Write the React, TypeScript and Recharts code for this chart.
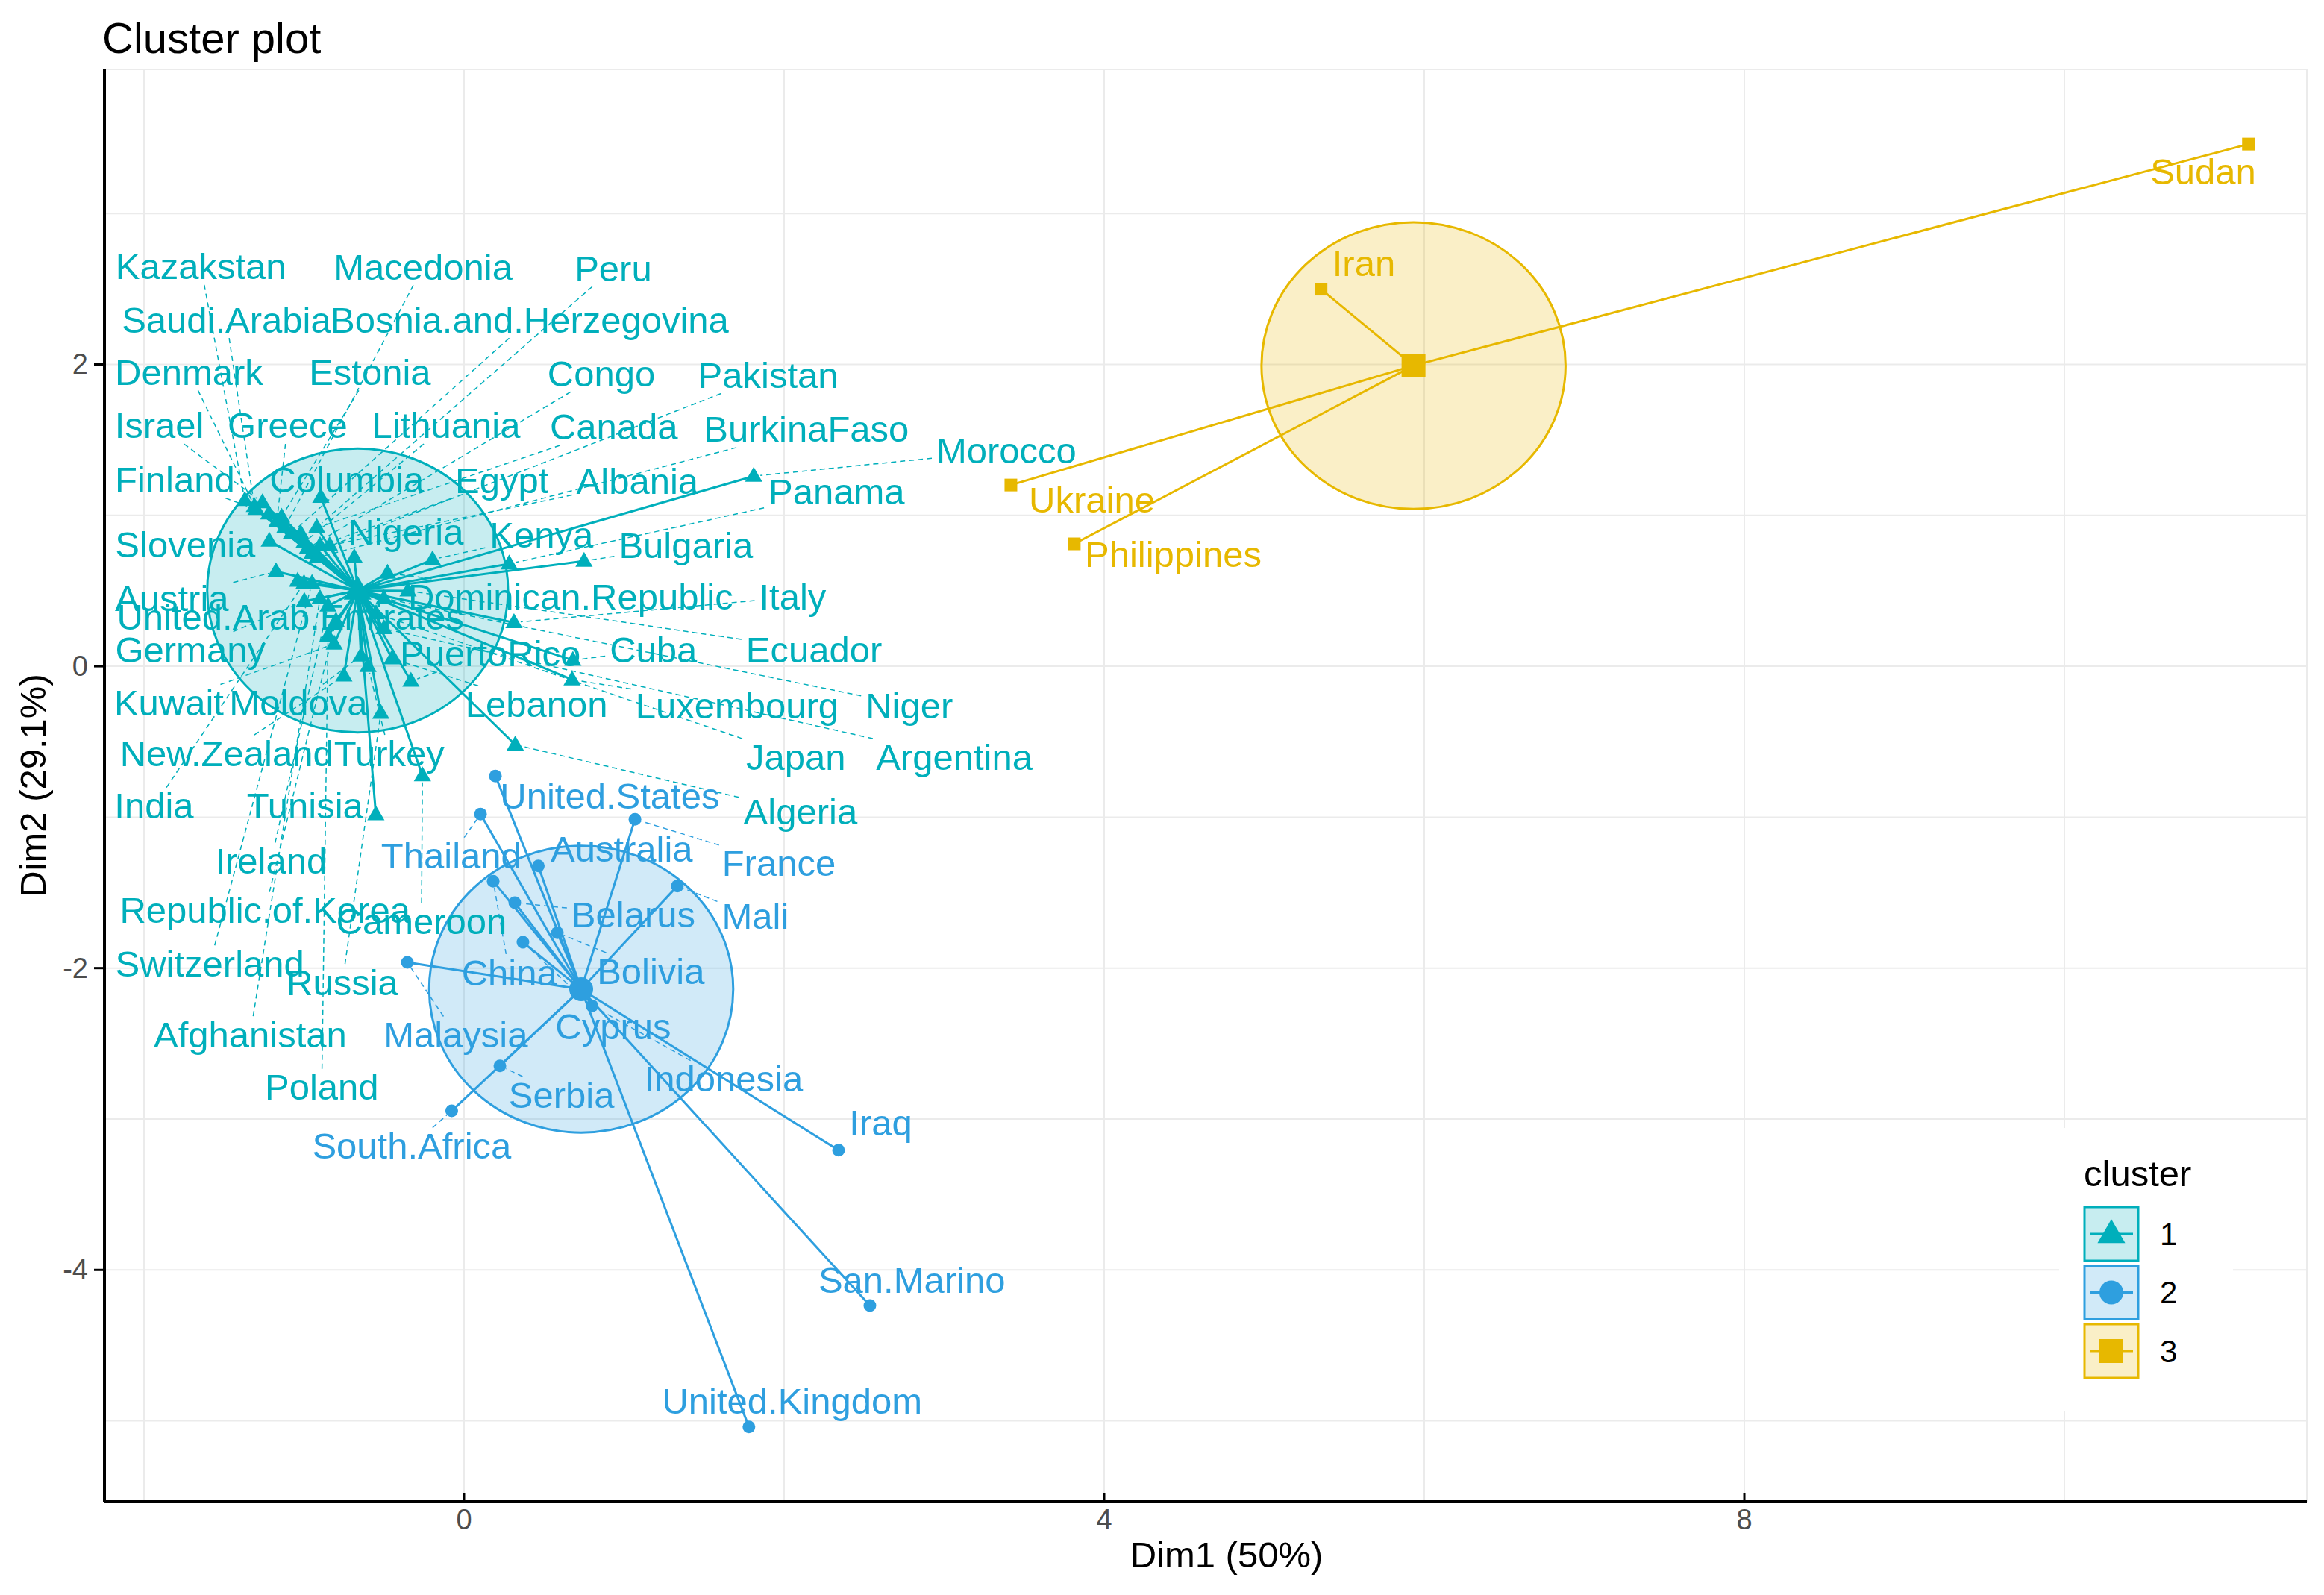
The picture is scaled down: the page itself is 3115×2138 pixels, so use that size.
import React from 'react';
import { ScatterChart, Scatter, XAxis, YAxis, CartesianGrid, ReferenceLine } from 'recharts';

// ---------- data ----------
const clusterColors = ['#00AFBB', '#2E9FDF', '#E7B800'];
const clusterIds = ['1', '2', '3'];

const c1Names = ['Kazakstan', 'Macedonia', 'Peru', 'Saudi.Arabia', 'Bosnia.and.Herzegovina', 'Denmark', 'Estonia', 'Congo', 'Pakistan', 'Israel', 'Greece', 'Lithuania', 'Canada', 'BurkinaFaso', 'Morocco', 'Finland', 'Columbia', 'Egypt', 'Albania', 'Panama', 'Slovenia', 'Nigeria', 'Kenya', 'Bulgaria', 'Austria', 'United.Arab.Emirates', 'Dominican.Republic', 'Italy', 'Germany', 'PuertoRico', 'Cuba', 'Ecuador', 'Kuwait', 'Moldova', 'Lebanon', 'Luxembourg', 'Niger', 'New.Zealand', 'Turkey', 'Japan', 'Argentina', 'India', 'Tunisia', 'Algeria', 'Ireland', 'Republic.of.Korea', 'Cameroon', 'Switzerland', 'Russia', 'Afghanistan', 'Poland'];
const c1PointX = [-1.37, -1.12, -0.92, -1.31, -1.08, -1.30, -1.14, -0.98, -0.95, -1.26, -1.17, -1.0, -1.02, -0.92, 1.81, -1.22, -0.895, -0.9, -0.84, 0.282, -1.217, -0.686, -0.197, 0.75, -1.175, -1.04, -0.478, 0.312, -0.998, -0.332, 0.68, -0.35, -0.811, -0.644, -0.45, 0.675, -0.5, -0.751, -0.6, -0.55, -0.5, -1.0, -0.551, 0.32, -0.85, -0.8, -0.26, -0.95, -0.52, -0.9, -0.85];
const c1PointY = [1.10, 0.92, 0.92, 1.06, 0.88, 1.04, 0.99, 0.78, 0.75, 1.085, 0.96, 0.82, 0.88, 0.72, 1.26, 1.01, 1.12, 0.80, 0.80, 0.679, 0.83, 0.722, 0.707, 0.697, 0.628, 0.564, 0.618, 0.29, 0.431, -0.098, 0.04, 0.5, 0.148, 0.069, 0.05, -0.089, 0.45, -0.063, 0.0, 0.35, 0.25, 0.55, -0.983, -0.52, 0.4, 0.3, -0.725, 0.55, -0.31, 0.45, 0.2];
const c1LabelX = [-1.645, -0.256, 0.932, -1.485, 0.410, -1.718, -0.588, 0.858, 1.900, -1.904, -1.103, -0.112, 0.936, 2.139, 3.389, -1.807, -0.733, 0.236, 1.083, 2.328, -1.742, -0.364, 0.484, 1.386, -1.826, -1.085, 0.666, 2.053, -1.710, 0.164, 1.183, 2.187, -1.844, -1.035, 0.453, 1.706, 2.782, -1.484, -0.467, 2.074, 3.063, -1.937, -0.994, 2.102, -1.206, -1.244, -0.266, -1.589, -0.760, -1.336, -0.889];
const c1LabelY = [2.649, 2.646, 2.637, 2.296, 2.296, 1.949, 1.949, 1.939, 1.929, 1.595, 1.595, 1.595, 1.585, 1.571, 1.428, 1.236, 1.236, 1.232, 1.225, 1.155, 0.806, 0.888, 0.868, 0.802, 0.450, 0.328, 0.458, 0.458, 0.108, 0.083, 0.108, 0.108, -0.242, -0.242, -0.251, -0.261, -0.261, -0.576, -0.576, -0.601, -0.601, -0.925, -0.925, -0.964, -1.291, -1.617, -1.691, -1.971, -2.094, -2.440, -2.789];

const c2Names = ['United.States', 'Thailand', 'Australia', 'France', 'Belarus', 'Mali', 'China', 'Bolivia', 'Malaysia', 'Cyprus', 'Indonesia', 'Serbia', 'South.Africa', 'Iraq', 'San.Marino', 'United.Kingdom'];
const c2PointX = [0.196, 0.103, 0.464, 1.068, 0.317, 1.333, 0.182, 0.583, -0.354, 0.368, 0.8, 0.224, -0.077, 2.34, 2.536, 1.78];
const c2PointY = [-0.727, -0.98, -1.323, -1.014, -1.567, -1.456, -1.424, -1.765, -1.962, -1.829, -2.25, -2.648, -2.946, -3.207, -4.236, -5.04];
const c2LabelX = [0.911, -0.080, 0.985, 1.967, 1.058, 1.820, 0.283, 1.167, -0.052, 0.932, 1.622, 0.609, -0.327, 2.604, 2.798, 2.050];
const c2LabelY = [-0.861, -1.256, -1.212, -1.306, -1.646, -1.656, -2.029, -2.020, -2.442, -2.388, -2.734, -2.840, -3.179, -3.024, -4.069, -4.871];

const c3Names = ['Iran', 'Ukraine', 'Philippines', 'Sudan'];
const c3PointX = [5.355, 3.417, 3.813, 11.15];
const c3PointY = [2.499, 1.201, 0.811, 3.46];
const c3LabelX = [5.622, 3.923, 4.431, 10.867];
const c3LabelY = [2.671, 1.104, 0.741, 3.277];

const centerX = [-0.665, 0.732, 5.933];
const centerY = [0.502, -2.14, 1.992];
const circleRadius = [0.94, 0.95, 0.95];

const gridX = [-2, 0, 2, 4, 6, 8, 10];
const gridY = [-5, -4, -3, -2, -1, 0, 1, 2, 3];
const majorX = [0, 4, 8];
const majorY = [-4, -2, 0, 2];

const chartTitle = 'Cluster plot';
const xTitle = 'Dim1 (50%)';
const yTitle = 'Dim2 (29.1%)';
const legendTitle = 'cluster';

// ---------- layout ----------
const W = 3115, H = 2138;
const X_MIN = -2.247, X_MAX = 11.515, Y_MIN = -5.536, Y_MAX = 3.955;
const MARGIN = { top: 93, right: 23, bottom: 65, left: 60 };
const X_AXIS_H = 60, Y_AXIS_W = 80;
const PLOT_W = W - MARGIN.left - Y_AXIS_W - MARGIN.right;
const PLOT_H = H - MARGIN.top - MARGIN.bottom - X_AXIS_H;
const KX = PLOT_W / (X_MAX - X_MIN);
const KY = PLOT_H / (Y_MAX - Y_MIN);
const FONT = '"Liberation Sans", Arial, Helvetica, sans-serif';
const LABEL_SIZE = 49;

type Row = { name: string; cluster: number; x: number; y: number; lx: number; ly: number };
const clusterTables = [
  { names: c1Names, px: c1PointX, py: c1PointY, lx: c1LabelX, ly: c1LabelY },
  { names: c2Names, px: c2PointX, py: c2PointY, lx: c2LabelX, ly: c2LabelY },
  { names: c3Names, px: c3PointX, py: c3PointY, lx: c3LabelX, ly: c3LabelY },
];
const rows: Row[] = [];
clusterTables.forEach((t, ci) =>
  t.names.forEach((n, i) => rows.push({ name: n, cluster: ci, x: t.px[i], y: t.py[i], lx: t.lx[i], ly: t.ly[i] }))
);

let measureCtx: CanvasRenderingContext2D | null = null;
function textWidth(s: string): number {
  try {
    if (!measureCtx) measureCtx = document.createElement('canvas').getContext('2d');
    if (measureCtx) {
      measureCtx.font = `${LABEL_SIZE}px "Liberation Sans", Arial, sans-serif`;
      return measureCtx.measureText(s).width;
    }
  } catch (e) { /* ignore */ }
  return s.length * LABEL_SIZE * 0.52;
}

// connector from label box edge to point (ggrepel style)
function connector(r: Row) {
  const hw = textWidth(r.name) / 2 + 6;
  const hh = LABEL_SIZE * 0.42 + 4;
  const dx = (r.x - r.lx) * KX;
  const dy = (r.y - r.ly) * KY;
  if (Math.abs(dx) <= hw && Math.abs(dy) <= hh) return null;
  const tx = dx === 0 ? Infinity : hw / Math.abs(dx);
  const ty = dy === 0 ? Infinity : hh / Math.abs(dy);
  const t = Math.min(tx, ty);
  const len = Math.hypot(dx, dy);
  if ((1 - t) * len < 26) return null;
  const t2 = 1 - 9 / len;
  return [
    { x: r.lx + t * (r.x - r.lx), y: r.ly + t * (r.y - r.ly) },
    { x: r.lx + t2 * (r.x - r.lx), y: r.ly + t2 * (r.y - r.ly) },
  ];
}

function markerPath(kind: number, cx: number, cy: number, s: number) {
  if (kind === 0) return `M${cx},${cy - s * 0.62}L${cx + s * 0.58},${cy + s * 0.38}L${cx - s * 0.58},${cy + s * 0.38}Z`;
  if (kind === 2) return `M${cx - s / 2},${cy - s / 2}h${s}v${s}h${-s}Z`;
  return `M${cx - s / 2},${cy}a${s / 2},${s / 2} 0 1,0 ${s},0a${s / 2},${s / 2} 0 1,0 ${-s},0Z`;
}

const XTick = (props: any) => {
  const { x, y, payload } = props;
  const v = payload.value;
  if (!majorX.includes(v)) return <g />;
  return (
    <g>
      <line x1={x} x2={x} y1={y} y2={y - 12} stroke="#000" strokeWidth={3} />
      <text x={x} y={y + 24} textAnchor="middle" dominantBaseline="central" fontSize={38} fontFamily={FONT} fill="#4D4D4D">{String(v)}</text>
    </g>
  );
};

const YTick = (props: any) => {
  const { x, y, payload } = props;
  const v = payload.value;
  if (!majorY.includes(v)) return <g />;
  return (
    <g>
      <line x1={x} x2={x - 14} y1={y} y2={y} stroke="#000" strokeWidth={3} />
      <text x={x - 22} y={y} textAnchor="end" dominantBaseline="central" fontSize={38} fontFamily={FONT} fill="#4D4D4D">{String(v)}</text>
    </g>
  );
};

const centers = centerX.map((cx, i) => ({ x: cx, y: centerY[i], r: circleRadius[i], cluster: i }));
const labelData = rows.map((r) => ({ x: r.lx, y: r.ly, name: r.name, cluster: r.cluster }));

export default function App() {
  return (
    <div style={{ position: 'absolute', left: 0, top: 0, width: W, height: H, background: '#fff', fontFamily: FONT }}>
      <ScatterChart width={W} height={H} margin={MARGIN}>
        <CartesianGrid stroke="#EBEBEB" strokeWidth={2} />
        <XAxis
          type="number"
          dataKey="x"
          domain={[X_MIN, X_MAX]}
          allowDataOverflow
          ticks={gridX}
          interval={0}
          tick={<XTick />}
          tickLine={false}
          tickSize={0}
          tickMargin={0}
          height={X_AXIS_H}
          axisLine={{ stroke: '#000', strokeWidth: 4 }}
        />
        <YAxis
          type="number"
          dataKey="y"
          domain={[Y_MIN, Y_MAX]}
          allowDataOverflow
          ticks={gridY}
          interval={0}
          tick={<YTick />}
          tickLine={false}
          tickSize={0}
          tickMargin={0}
          width={Y_AXIS_W}
          axisLine={{ stroke: '#000', strokeWidth: 4 }}
        />
        <Scatter
          data={centers}
          isAnimationActive={false}
          shape={(p: any) => {
            const c = clusterColors[p.payload.cluster];
            return (
              <ellipse cx={p.cx} cy={p.cy} rx={p.payload.r * KX} ry={p.payload.r * KY} fill={c} fillOpacity={0.22} stroke={c} strokeWidth={3} />
            );
          }}
        />
        {rows.map((r, i) => {
          const seg = connector(r);
          if (!seg) return null;
          return (
            <ReferenceLine key={'c' + i} segment={seg} stroke={clusterColors[r.cluster]} strokeWidth={1.5} strokeDasharray="7 5" ifOverflow="visible" />
          );
        })}
        {rows.map((r, i) => (
          <ReferenceLine
            key={'s' + i}
            segment={[{ x: r.x, y: r.y }, { x: centerX[r.cluster], y: centerY[r.cluster] }]}
            stroke={clusterColors[r.cluster]}
            strokeWidth={3}
            ifOverflow="visible"
          />
        ))}
        {clusterTables.map((_, ci) => (
          <Scatter
            key={'p' + ci}
            data={rows.filter((r) => r.cluster === ci)}
            isAnimationActive={false}
            shape={(p: any) => <path d={markerPath(ci, p.cx, p.cy, ci === 0 ? 20 : 17)} fill={clusterColors[ci]} />}
          />
        ))}
        <Scatter
          data={centers}
          isAnimationActive={false}
          shape={(p: any) => <path d={markerPath(p.payload.cluster, p.cx, p.cy, 32)} fill={clusterColors[p.payload.cluster]} />}
        />
        <Scatter
          data={labelData}
          isAnimationActive={false}
          shape={(p: any) => (
            <text x={p.cx} y={p.cy} textAnchor="middle" dominantBaseline="central" fontSize={LABEL_SIZE} fontFamily={FONT} fill={clusterColors[p.payload.cluster]}>
              {p.payload.name}
            </text>
          )}
        />
      </ScatterChart>
      <svg width={W} height={H} style={{ position: 'absolute', left: 0, top: 0, pointerEvents: 'none' }}>
        <text x={137} y={71} fontSize={58} fontFamily={FONT} fill="#000">{chartTitle}</text>
        <text x={1644} y={2101} textAnchor="middle" fontSize={49} fontFamily={FONT} fill="#000">{xTitle}</text>
        <text x={44} y={1053} textAnchor="middle" dominantBaseline="central" fontSize={49} fontFamily={FONT} fill="#000" transform="rotate(-90 44 1053)">{yTitle}</text>
        <rect x={2760} y={1512} width={233} height={380} fill="#fff" />
        <text x={2793} y={1590} fontSize={49} fontFamily={FONT} fill="#000">{legendTitle}</text>
        {clusterIds.map((id, i) => {
          const c = clusterColors[i];
          const bx = 2794, by = 1618 + i * 78.5, s = 72;
          const cx = bx + s / 2, cy = by + s / 2;
          return (
            <g key={id}>
              <rect x={bx} y={by} width={s} height={s} fill={c} fillOpacity={0.22} stroke={c} strokeWidth={3} />
              <line x1={bx + 7} x2={bx + s - 7} y1={cy} y2={cy} stroke={c} strokeWidth={3} />
              <path d={markerPath(i, cx, cy, 32)} fill={c} />
              <text x={2895} y={cy} dominantBaseline="central" fontSize={42} fontFamily={FONT} fill="#000">{id}</text>
            </g>
          );
        })}
      </svg>
    </div>
  );
}
